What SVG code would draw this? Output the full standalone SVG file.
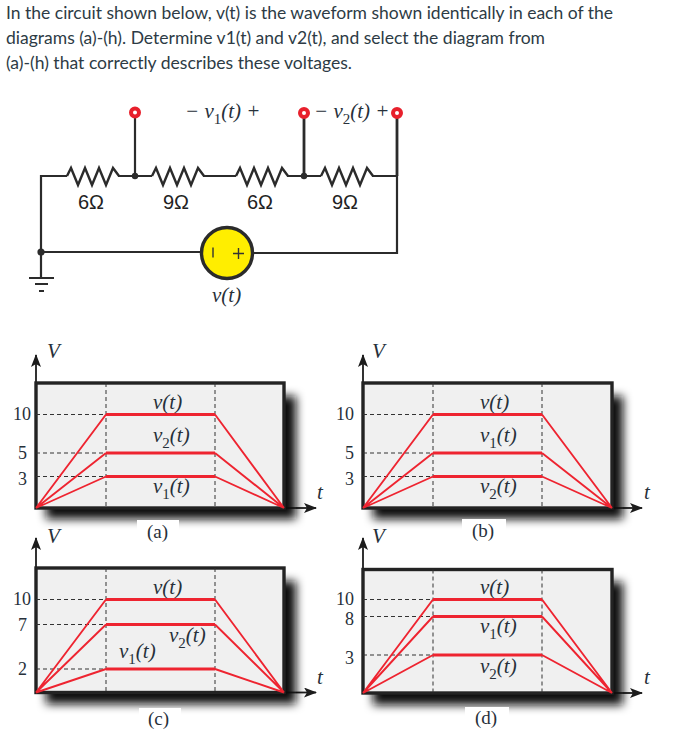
<svg xmlns="http://www.w3.org/2000/svg" width="700" height="740" viewBox="0 0 700 740">
<style>
.h{font-family:Lato,"Liberation Sans",sans-serif;font-size:17px;fill:#2d3b45}
.s{font-family:"Liberation Serif",serif;fill:#27303a}
.n{font-size:18px}
.c{font-size:19px}
.l{font-size:21px;font-style:italic}
.sub{font-size:15px;font-style:normal}
.o{font-family:"Liberation Sans",sans-serif;font-size:20px;fill:#222}
.w{fill:none;stroke:#2b2b2b;stroke-width:2.200}
.t{fill:#fff;stroke:#e8202c;stroke-width:4}
.r{fill:none;stroke:#ee2430;stroke-width:1.900;stroke-linejoin:round}
.rt{stroke:#ee2430;stroke-width:2.800}
.d{stroke:#333;stroke-width:1;stroke-dasharray:4 3;fill:none}
.f{fill:#f0f0f0;stroke:#232323;stroke-width:3.400}
.sh{fill:#111}
.ax{stroke:#1c1c1c;stroke-width:1.800;fill:none;marker-end:url(#a)}
</style>
<defs>
<filter id="b" filterUnits="userSpaceOnUse" x="0" y="340" width="700" height="400"><feGaussianBlur stdDeviation="5"/></filter>
<marker id="a" markerUnits="userSpaceOnUse" markerWidth="14" markerHeight="10" refX="12" refY="5" orient="auto"><path d="M0 0L13 5L0 10L3 5Z" fill="#1c1c1c"/></marker>
<path id="res" d="M0 0L4-8L11 9L18-8L25 9L32-8L39 9L46-8L52 0" fill="none" stroke="#2b2b2b" stroke-width="2.400" stroke-linejoin="miter"/>
</defs>
<rect width="700" height="740" fill="#fff"/>

<g id="question">
<text class="h" x="6" y="19" textLength="607" lengthAdjust="spacingAndGlyphs">In the circuit shown below, v(t) is the waveform shown identically in each of the</text>
<text class="h" x="6" y="44" textLength="539" lengthAdjust="spacingAndGlyphs">diagrams (a)-(h). Determine v1(t) and v2(t), and select the diagram from</text>
<text class="h" x="6" y="69" textLength="346" lengthAdjust="spacingAndGlyphs">(a)-(h) that correctly describes these voltages.</text>
</g>

<g id="connectors">
<path class="w" d="M67 176H41V278M41 252H202M252 253H397V176H372M118 176H152M203 176H236M287 176H321M135 176V116"/>
<path d="M304 176V116M397 176V116" stroke="#2b2b2b" stroke-width="2.800" fill="none"/>
<circle cx="135" cy="176" r="3.200" fill="#2b2b2b"/><circle cx="304" cy="176" r="3.200" fill="#2b2b2b"/><circle cx="41" cy="252" r="3.600" fill="#2b2b2b"/>
</g>

<g id="R1"><use href="#res" x="67" y="176"/><text class="o" x="78" y="209">6Ω</text></g>
<g id="R2"><use href="#res" x="152" y="176"/><text class="o" x="163" y="209">9Ω</text></g>
<g id="R3"><use href="#res" x="236" y="176"/><text class="o" x="247" y="209">6Ω</text></g>
<g id="R4"><use href="#res" x="321" y="176"/><text class="o" x="332" y="209">9Ω</text></g>
<g id="T1"><circle class="t" cx="135" cy="112.500" r="4"/></g>
<g id="T2"><circle class="t" cx="304" cy="113" r="4"/></g>
<g id="T3"><circle class="t" cx="397" cy="113" r="4"/></g>
<g id="V1label"><text class="s l" x="185" y="118">− v<tspan class="sub" dy="6">1</tspan><tspan dy="-6">(t) +</tspan></text></g>
<g id="V2label"><text class="s l" x="314" y="118">− v<tspan class="sub" dy="6">2</tspan><tspan dy="-6">(t) +</tspan></text></g>
<g id="source"><circle cx="227" cy="253" r="25.500" fill="#ffee00" stroke="#2b2b2b" stroke-width="3.400"/><path d="M213 247.500V257.500M233 253.500H244M238.500 248V259" stroke="#333" stroke-width="1.400"/><text class="s l" x="212" y="302">v(t)</text></g>
<g id="ground"><path d="M29 278H54M35 284H48M39 291H44" stroke="#2b2b2b" stroke-width="2" fill="none"/></g>

<g id="plotA">
<path class="ax" d="M36 508V355"/><path class="ax" d="M284 508H316"/>
<rect class="sh" x="46" y="396" width="250" height="123" filter="url(#b)"/>
<rect class="f" x="36" y="383" width="248" height="125"/>
<path class="d" d="M106 383V508M215 383V508M36 414.500H106M36 453H106M36 476.500H106"/>
<path class="r" d="M36 508L106 414.500M215 414.500L284 508M36 508L106 453M215 453L284 508M36 508L106 476.500M215 476.500L284 508"/>
<path class="rt" d="M106 414.500H215M106 453H215M106 476.500H215"/>
<text class="s n" x="13" y="420">10</text><text class="s n" x="18" y="459">5</text><text class="s n" x="18" y="485">3</text>
<text class="s l" x="47" y="358">V</text><text class="s l" x="317" y="499">t</text>
<text class="s l" x="153" y="409">v(t)</text>
<text class="s l" x="153" y="442">v<tspan class="sub" dy="6">2</tspan><tspan dy="-6">(t)</tspan></text>
<text class="s l" x="153" y="493">v<tspan class="sub" dy="6">1</tspan><tspan dy="-6">(t)</tspan></text>
<rect x="137" y="520" width="42" height="26" fill="#fff"/><text class="s c" x="147" y="538">(a)</text>
</g>

<g id="plotB">
<path class="ax" d="M363 508V355"/><path class="ax" d="M612 508H642"/>
<rect class="sh" x="373" y="396" width="250" height="123" filter="url(#b)"/>
<rect class="f" x="363" y="383" width="249" height="125"/>
<path class="d" d="M433 383V508M542 383V508M363 414.500H433M363 453H433M363 476.500H433"/>
<path class="r" d="M363 508L433 414.500M542 414.500L612 508M363 508L433 453M542 453L612 508M363 508L433 476.500M542 476.500L612 508"/>
<path class="rt" d="M433 414.500H542M433 453H542M433 476.500H542"/>
<text class="s n" x="336" y="420">10</text><text class="s n" x="345" y="459">5</text><text class="s n" x="345" y="485">3</text>
<text class="s l" x="372" y="358">V</text><text class="s l" x="644" y="499">t</text>
<text class="s l" x="480" y="409">v(t)</text>
<text class="s l" x="480" y="442">v<tspan class="sub" dy="6">1</tspan><tspan dy="-6">(t)</tspan></text>
<text class="s l" x="480" y="493">v<tspan class="sub" dy="6">2</tspan><tspan dy="-6">(t)</tspan></text>
<rect x="462" y="519" width="44" height="26" fill="#fff"/><text class="s c" x="472" y="537">(b)</text>
</g>

<g id="plotC">
<path class="ax" d="M36 692.500V538"/><path class="ax" d="M284 692.500H316"/>
<rect class="sh" x="46" y="581" width="250" height="123" filter="url(#b)"/>
<rect class="f" x="36" y="568" width="248" height="124.500"/>
<path class="d" d="M106 568V692.500M215 568V692.500M36 599.500H106M36 624.500H106M36 669H106"/>
<path class="r" d="M36 692.500L106 599.500M215 599.500L284 692.500M36 692.500L106 624.500M215 624.500L284 692.500M36 692.500L106 669M215 669L284 692.500"/>
<path class="rt" d="M106 599.500H215M106 624.500H215M106 669H215"/>
<text class="s n" x="13" y="605">10</text><text class="s n" x="18" y="631">7</text><text class="s n" x="18" y="675">2</text>
<text class="s l" x="47" y="543">V</text><text class="s l" x="317" y="684">t</text>
<text class="s l" x="153" y="594">v(t)</text>
<text class="s l" x="169" y="642">v<tspan class="sub" dy="6">2</tspan><tspan dy="-6">(t)</tspan></text>
<text class="s l" x="119" y="658">v<tspan class="sub" dy="6">1</tspan><tspan dy="-6">(t)</tspan></text>
<rect x="139" y="708" width="42" height="26" fill="#fff"/><text class="s c" x="148" y="725">(c)</text>
</g>

<g id="plotD">
<path class="ax" d="M363 693V538"/><path class="ax" d="M612 693H642"/>
<rect class="sh" x="373" y="582" width="250" height="123" filter="url(#b)"/>
<rect class="f" x="363" y="569.500" width="249" height="123.500"/>
<path class="d" d="M433 569.500V693M542 569.500V693M363 599.500H433M363 616.500H433M363 655H433"/>
<path class="r" d="M363 693L433 599.500M542 599.500L612 693M363 693L433 616.500M542 616.500L612 693M363 693L433 655M542 655L612 693"/>
<path class="rt" d="M433 599.500H542M433 616.500H542"/><path class="rt" style="stroke-width:3" d="M433 655H542"/>
<text class="s n" x="336" y="605">10</text><text class="s n" x="345" y="625">8</text><text class="s n" x="345" y="664">3</text>
<text class="s l" x="372" y="543">V</text><text class="s l" x="644" y="684">t</text>
<text class="s l" x="480" y="594">v(t)</text>
<text class="s l" x="480" y="633">v<tspan class="sub" dy="6">1</tspan><tspan dy="-6">(t)</tspan></text>
<text class="s l" x="480" y="673">v<tspan class="sub" dy="6">2</tspan><tspan dy="-6">(t)</tspan></text>
<rect x="465" y="707" width="44" height="26" fill="#fff"/><text class="s c" x="475" y="724">(d)</text>
</g>
</svg>
